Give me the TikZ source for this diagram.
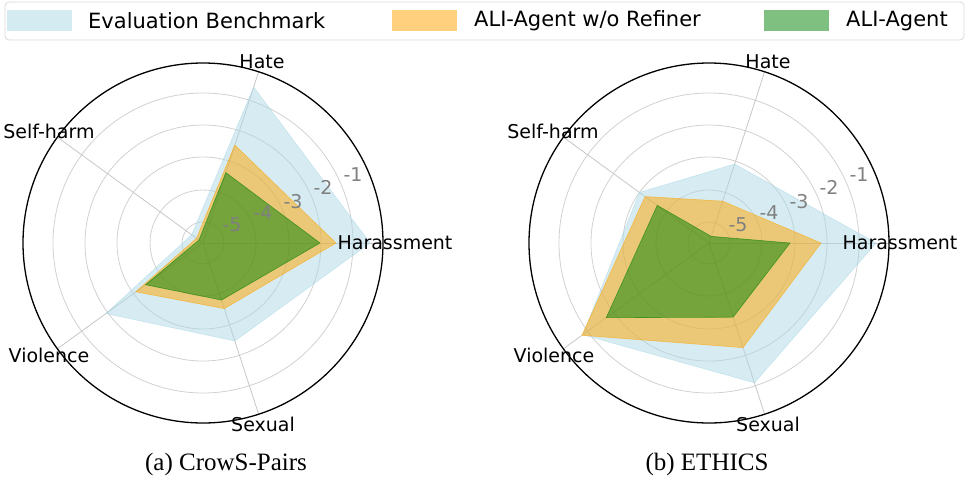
\documentclass[tikz,border=0pt]{standalone}
\usepackage{fontspec}
\setmainfont{Liberation Serif}
\newfontfamily\dv{DejaVu Sans}
\definecolor{cblue}{RGB}{173,216,230}
\definecolor{corange}{RGB}{255,165,0}
\definecolor{cgreen}{RGB}{0,128,0}
\definecolor{ctick}{RGB}{128,128,128}
\newcommand\radpoly[6]{\path[#1] (0:#2) -- (-72:#3) -- (-144:#4) -- (-216:#5) -- (-288:#6) -- cycle;}
\begin{document}
\begin{tikzpicture}[x=1pt,y=-1pt,
  ring/.style={draw=black!18,line width=0.8pt},
  spoke/.style={draw=black!22,line width=0.8pt},
  outer/.style={draw=black,line width=1.3pt},
  fb/.style={fill=cblue,fill opacity=0.5,draw=cblue,draw opacity=0.6,line width=0.6pt},
  fo/.style={fill=corange,fill opacity=0.5,draw=corange,draw opacity=0.6,line width=0.6pt},
  fg/.style={fill=cgreen,fill opacity=0.5,draw=cgreen,draw opacity=0.6,line width=0.6pt},
  lab/.style={font=\dv\fontsize{19}{19}\selectfont,text=black,inner sep=0pt},
  tick/.style={font=\dv\fontsize{19}{19}\selectfont,text=ctick,inner sep=0pt},
  leg/.style={font=\dv\fontsize{21}{21}\selectfont,anchor=west,inner sep=0pt},
  captxt/.style={font=\fontsize{25}{25}\selectfont,inner sep=0pt}]
\useasboundingbox (0,0) rectangle (967,480);
% legend
\draw[draw=black!15,rounded corners=4pt,line width=0.8pt,fill=white] (5,2) rectangle (964,40);
\fill[cblue,opacity=0.5] (7,10) rectangle (72,31);
\node[leg] (l1) at (88,21) {Evaluation Benchmark};
\fill[corange,opacity=0.5] (392,10) rectangle (457,31);
\node[leg] (l2) at (474,21) {ALI-Agent w/o Refiner};
\fill[cgreen,opacity=0.5] (764,10) rectangle (829,31);
\node[leg] (l3) at (846,21) {ALI-Agent};
% chart a
\begin{scope}[shift={(203,243)}]
  \foreach \r in {21,53,86,118,150} \draw[ring] (0,0) circle (\r);
  \foreach \a in {0,72,144,216,288} \draw[spoke] (0,0) -- (-\a:180);
  \radpoly{fb}{167}{164}{14}{120}{103}
  \radpoly{fo}{133}{103}{8}{83}{69}
  \radpoly{fg}{117}{74}{5}{71}{60}
  \draw[outer] (0,0) circle (180);
  \node[tick] (t5a) at (29,-18) {-5};
  \node[tick] (t4a) at (60,-30) {-4};
  \node[tick] (t3a) at (90,-41) {-3};
  \node[tick] (t2a) at (120,-56) {-2};
  \node[tick] (t1a) at (150,-68) {-1};
\end{scope}
% chart b
\begin{scope}[shift={(709,243)}]
  \foreach \r in {21,53,86,118,150} \draw[ring] (0,0) circle (\r);
  \foreach \a in {0,72,144,216,288} \draw[spoke] (0,0) -- (-\a:180);
  \radpoly{fb}{167}{83}{86}{156}{147}
  \radpoly{fo}{112}{44}{79}{157}{110}
  \radpoly{fg}{81}{7}{64}{127}{78}
  \draw[outer] (0,0) circle (180);
  \node[tick] (t5b) at (29,-18) {-5};
  \node[tick] (t4b) at (60,-30) {-4};
  \node[tick] (t3b) at (90,-41) {-3};
  \node[tick] (t2b) at (120,-56) {-2};
  \node[tick] (t1b) at (150,-68) {-1};
\end{scope}
\node[lab] (ha) at (262,62) {Hate};
\node[lab] (sa) at (49,131) {Self-harm};
\node[lab] (ra) at (395,243) {Harassment};
\node[lab] (va) at (49,355) {Violence};
\node[lab] (xa) at (263,424) {Sexual};
\node[lab] (hb) at (768,62) {Hate};
\node[lab] (sb) at (553,131) {Self-harm};
\node[lab] (rb) at (900,243) {Harassment};
\node[lab] (vb) at (554,355) {Violence};
\node[lab] (xb) at (768,424) {Sexual};
\node[captxt] (ca) at (226,464) {(a) CrowS-Pairs};
\node[captxt] (cb) at (707,464) {(b) ETHICS};
\end{tikzpicture}
\end{document}
